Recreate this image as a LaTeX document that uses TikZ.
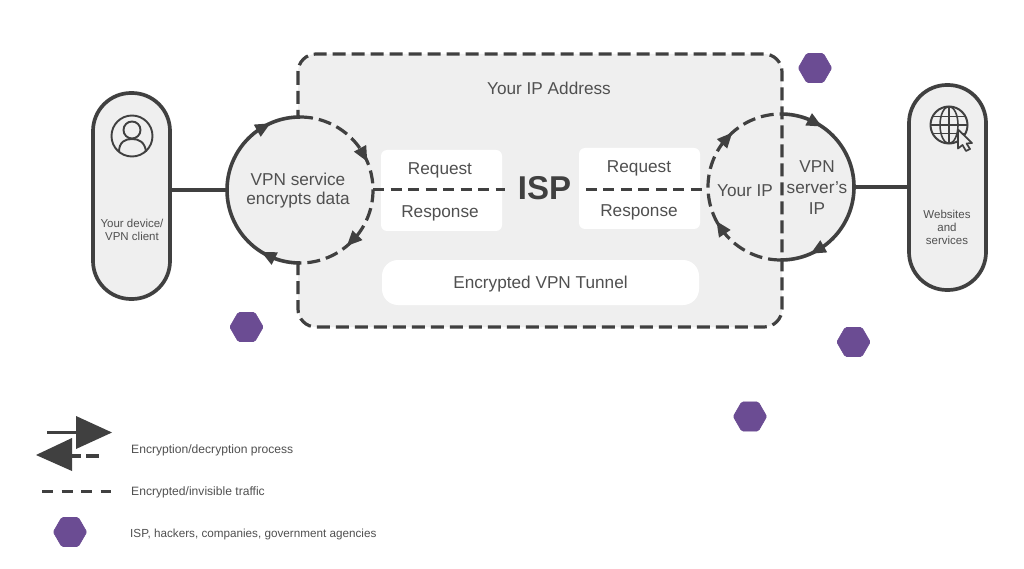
\documentclass[tikz,border=0pt]{standalone}
\usepackage{fontspec}
\setmainfont{Liberation Sans}
\usetikzlibrary{arrows.meta,shapes.geometric}
\definecolor{ink}{HTML}{404040}
\definecolor{txt}{HTML}{505050}
\definecolor{panel}{HTML}{EFEFEF}
\definecolor{hexc}{HTML}{6B4C93}
\tikzset{
  pill/.style={draw=ink,line width=3.7pt,fill=panel,rectangle,rounded corners=38pt,minimum width=77pt,minimum height=#1,inner sep=0pt,outer sep=0pt},
  ring/.style={circle,fill=panel,minimum size=146pt,inner sep=0pt,outer sep=0pt},
  whitebox/.style={rectangle,fill=white,rounded corners=6pt,minimum width=121pt,minimum height=81pt,inner sep=0pt},
  hexa/.style={regular polygon,regular polygon sides=6,fill=hexc,draw=hexc,line width=.6pt,rounded corners=1.5pt,minimum size=33.5pt,inner sep=0pt},
  solidline/.style={draw=ink,line width=3.6pt},
  dashline/.style={draw=ink,line width=3.2pt,dash pattern=on 13pt off 6pt},
  thindash/.style={draw=ink,line width=3pt,dash pattern=on 11pt off 6.5pt},
  lab/.style={text=txt,inner sep=0pt,align=center,font=\fontsize{17.2}{19.5}\selectfont},
  small/.style={text=txt,inner sep=0pt,align=center,font=\fontsize{11.5}{13.2}\selectfont},
  leg/.style={text=txt,inner sep=0pt,anchor=west,font=\fontsize{12.1}{13}\selectfont},
  icon/.style={draw=ink,line width=1.9pt},
}
\newcommand\cwhead[2]{\path ([shift={(#2:73pt)}]#1.center) coordinate (tp);
  \fill[ink,shift={(tp)},rotate=#2+5.5] (0pt,0pt) -- (7pt,15pt) -- (-7pt,15pt) -- cycle;}
\begin{document}
\begin{tikzpicture}[x=1pt,y=-1pt]
\useasboundingbox (0,0) rectangle (1024,569);
\fill[white] (0,0) rectangle (1024,569);
% panel
\node[rectangle,fill=panel,rounded corners=18pt,minimum width=484pt,minimum height=273pt,inner sep=0pt,outer sep=0pt] (box) at (540,190.5) {};
\node[whitebox] (bl) at (441.5,190.5) {};
\node[whitebox] (br) at (639.5,188.5) {};
\node[rectangle,fill=white,rounded corners=16pt,minimum width=317pt,minimum height=45pt,inner sep=0pt,text=txt,font=\fontsize{17.2}{19.5}\selectfont] (tun) at (540.5,282.5) {\raisebox{-6pt}[0pt][0pt]{Encrypted VPN Tunnel}};
% right ring
\node[ring] (rc) at (781,187) {};
% panel outline
\draw[dashline,rounded corners=18pt] (box.north west) rectangle (box.south east);
% left ring
\node[ring] (lc) at (300,190) {};
% pills
\node[pill=206pt] (dev) at (131.5,196) {};
\node[pill=205pt] (web) at (947.5,187.5) {};
% ISP
\node[font=\fontsize{33}{33}\bfseries\selectfont,text=ink,inner sep=0pt,inner xsep=13pt] (isp) at (544.5,188) {ISP};
% connectors
\draw[solidline,line width=4pt] (dev.east |- lc.west) -- (lc.west);
\draw[solidline,line width=4pt] (rc.east) -- (web.west |- rc.east);
\draw[thindash] (lc.east) -- (isp.west |- lc.east);
\draw[thindash] (isp.east |- lc.east) ++(1.5,0) -- (rc.west |- lc.east);
% ring arcs
\draw[solidline] (lc.270) arc[start angle=270,end angle=90,radius=73pt];
\draw[dashline] (lc.90) arc[start angle=90,end angle=-90,radius=73pt];
\draw[solidline] (rc.90) arc[start angle=90,end angle=-90,radius=73pt];
\draw[dashline] (rc.270) arc[start angle=270,end angle=90,radius=73pt];
\cwhead{lc}{114}
\cwhead{lc}{238}
\cwhead{lc}{23}
\cwhead{lc}{-50}
\cwhead{rc}{132}
\cwhead{rc}{208}
\cwhead{rc}{56}
\cwhead{rc}{-66}
% texts
\node[lab] (t1) at (549,88.5) {Your IP Address};
\node[lab] (t2) at (298,190.5) {VPN service\\encrypts data};
\node[lab] (t3) at (440,170.5) {Request};
\node[lab] (t4) at (440,213) {Response};
\node[lab] (t5) at (639,168.5) {Request};
\node[lab] (t6) at (639,212) {Response};
\node[lab] (t7) at (745,190.5) {Your IP};
\node[lab,font=\fontsize{17.2}{21}\selectfont] (t8) at (817,187.5) {VPN\\server’s\\IP};
\node[small] (t9) at (132,230) {Your device/\\VPN client};
\node[small] (t10) at (947,227.5) {Websites\\and\\services};
% person icon
\node[circle,draw=ink,line width=1.9pt,minimum size=41pt,inner sep=0pt,outer sep=0pt] (pers) at (132,136) {};
\node[circle,draw=ink,line width=1.9pt,minimum size=17pt,inner sep=0pt] (head) at (132,130) {};
\draw[icon] (119,152) .. controls (119,142) and (125,139) .. (132,139) .. controls (139,139) and (145,142) .. (146,152);
% globe icon
\node[circle,draw=ink,line width=2pt,minimum size=37pt,inner sep=0pt,outer sep=0pt] (globe) at (949,125) {};
\begin{scope}
\clip (globe.center) circle[radius=18.5pt];
\draw[icon,line width=1.6pt] (globe.center) ellipse[x radius=9pt,y radius=18.5pt];
\draw[icon,line width=1.6pt] (949,106) -- (949,144);
\draw[icon,line width=1.6pt] (930,125) -- (968,125);
\draw[icon,line width=1.6pt] (930,116.5) -- (968,116.5);
\draw[icon,line width=1.6pt] (930,133.5) -- (968,133.5);
\end{scope}
\draw[draw=ink,fill=panel,line width=1.7pt,line join=round] (958,129.5) -- (972,143) -- (966.5,143.5) -- (970,149) -- (966,151) -- (962.5,145) -- (958,148.5) -- cycle;
% hexagons
\node[hexa] (h1) at (815,68) {};
\node[hexa] (h2) at (246.5,327) {};
\node[hexa] (h3) at (853.5,342) {};
\node[hexa] (h4) at (750,416.5) {};
\node[hexa] (h5) at (70,532) {};
% legend
\coordinate (a1) at (47,432.5);
\coordinate (a2) at (78,432.5);
\coordinate (b1) at (100,456);
\coordinate (b2) at (71,456);
\coordinate (c1) at (42,491);
\coordinate (c2) at (111,491);
\draw[draw=ink,line width=3.6pt] (a1) -- (a2);
\fill[ink] (76,416) -- (112,432.5) -- (76,449) -- cycle;
\draw[draw=ink,line width=4pt,dash pattern=on 10pt off 5pt on 13pt off 5pt] (b2) -- (b1);
\fill[ink] (72,438) -- (36,455) -- (72,471) -- cycle;
\draw[draw=ink,line width=3pt,dash pattern=on 11pt off 8.5pt] (c1) -- (c2);
\node[leg] (l1) at (131,450) {Encryption/decryption process};
\node[leg] (l2) at (131,492) {Encrypted/invisible traffic};
\node[leg,font=\fontsize{11.7}{13}\selectfont] (l3) at (130,534) {ISP, hackers, companies, government agencies};
\end{tikzpicture}
\end{document}
